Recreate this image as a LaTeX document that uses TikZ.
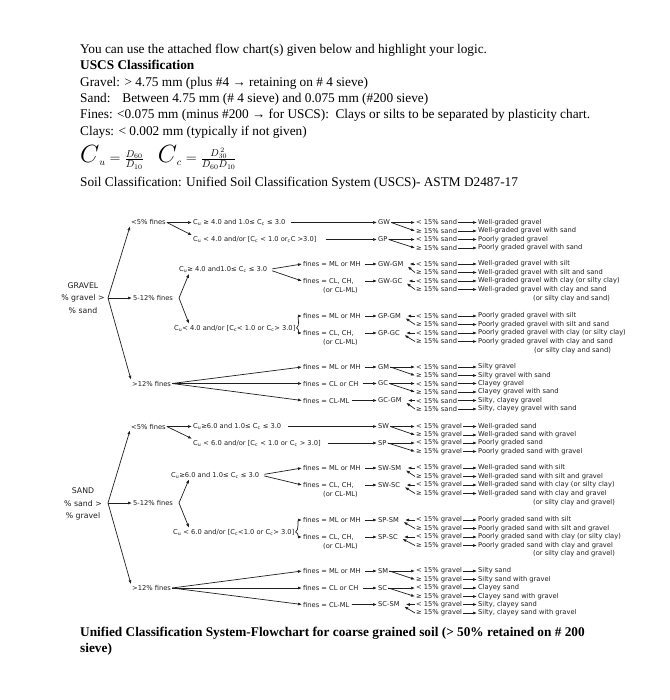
\documentclass[tikz,border=0pt]{standalone}
\usepackage{fontspec}
\setmainfont{Liberation Serif}
\newfontfamily\chartfont{DejaVu Sans}
\usetikzlibrary{arrows.meta}
\definecolor{ink}{gray}{0.12}

\begin{document}
\begin{tikzpicture}[x=1pt,y=-1pt,
  hdr/.style={anchor=base west,inner sep=0pt,font=\fontsize{13.3}{16}\selectfont},
  soil/.style={align=center,inner sep=0pt,text=ink,font=\chartfont\fontsize{7.8}{12.3}\selectfont},
  txt/.style={anchor=west,inner sep=1pt,text=ink,font=\chartfont\fontsize{6.7}{7.5}\selectfont},
  arr/.style={draw=ink,line width=0.7pt,-{Latex[length=4pt,width=3pt]}}]
\path[fill=white] (0,0) rectangle (669,700);

% header
\node[hdr] (l1) at (80,54) {You can use the attached flow chart(s) given below and highlight your logic.};
\node[hdr] (l2) at (80,70) {\bfseries USCS Classification};
\node[hdr] (l3) at (80,87) {Gravel: > 4.75 mm (plus \#4 → retaining on \# 4 sieve)};
\node[hdr] (l4) at (80,103) {Sand:\hspace{0.9em}Between 4.75 mm (\# 4 sieve) and 0.075 mm (\#200 sieve)};
\node[hdr] (l5) at (80,119) {Fines: <0.075 mm (minus \#200 → for USCS):\hspace{0.5em}Clays or silts to be separated by plasticity chart.};
\node[hdr] (l6) at (80,136) {Clays: < 0.002 mm (typically if not given)};
\node[hdr] (cu) at (80,163) {\fontsize{14}{14}\selectfont$\mbox{\fontsize{27}{27}\selectfont$C$}_u=\frac{D_{60}}{D_{10}}\quad\mbox{\fontsize{27}{27}\selectfont$C$}_c=\frac{D^{\,2}_{30}}{D_{60}D_{10}}$};
\node[hdr] (l7) at (80,187) {Soil Classification: Unified Soil Classification System (USCS)- ASTM D2487-17};

% gravel
\node[soil] (gravel) at (83,298) {GRAVEL\\\% gravel >\\\% sand};
\coordinate (gb) at (108,298);
\node[txt] (g5) at (130,222.5) {<5\% fines};
\node[txt] (g512) at (132,298) {5-12\% fines};
\node[txt] (g12) at (131,383.5) {>12\% fines};
\draw[arr] (gb) -- (g5.south west);
\draw[arr] (gb) -- (g512.west);
\draw[arr] (gb) -- (g12.north west);

\node[txt] (g5a) at (192,222.5) {C\textsubscript{u} ≥ 4.0 and 1.0≤ C\textsubscript{c} ≤ 3.0};
\node[txt] (g5b) at (192,239.5) {C\textsubscript{u} < 4.0 and/or [C\textsubscript{c} < 1.0 or\textsubscript{c}C >3.0]};
\draw[arr] (g5.east) -- (g5a.west);
\draw[arr] (g5.east) -- (g5b.north west);
\node[txt] (gw) at (377,222.5) {GW};
\node[txt] (gp) at (377,239.5) {GP};
\draw[arr,shorten <=4pt] (g5a.east) -- (gw.west);
\draw[arr,shorten <=8pt] (g5b.east) -- (gp.west);

\node[txt] (g512a) at (178,269.5) {C\textsubscript{u}≥ 4.0 and1.0≤ C\textsubscript{c} ≤ 3.0};
\node[txt] (g512b) at (173,328) {C\textsubscript{u}< 4.0 and/or [C\textsubscript{c}< 1.0 or C\textsubscript{c}> 3.0]};
\coordinate (gk) at (179,298);
\draw[arr] (gk) -- ([xshift=11pt]g512a.south west);
\draw[arr] (gk) -- ([xshift=16pt]g512b.north west);

\node[txt] (f1) at (302,264) {fines = ML or MH};
\node[txt] (f2) at (302,281) {fines = CL, CH,};
\node[txt] (f2o) at (322,290) {(or CL-ML)};
\draw[arr,shorten <=4pt] (g512a.east) -- (f1.west);
\draw[arr,shorten <=4pt] (g512a.east) -- (f2.west);
\node[txt] (gwgm) at (377,264) {GW-GM};
\node[txt] (gwgc) at (377,281) {GW-GC};
\draw[arr,shorten <=3pt] (f1.east) -- (gwgm.west);
\draw[arr,shorten <=3pt] (f2.east -| f1.east) -- (gwgc.west);

\node[txt] (f3) at (302,316) {fines = ML or MH};
\node[txt] (f4) at (302,333) {fines = CL, CH,};
\node[txt] (f4o) at (322,342) {(or CL-ML)};
\draw[arr] (g512b.east) .. controls +(4,-2) and +(-5,0) .. (f3.west);
\draw[arr] (g512b.east) .. controls +(4,2) and +(-5,0) .. (f4.west);
\node[txt] (gpgm) at (377,316) {GP-GM};
\node[txt] (gpgc) at (377,333) {GP-GC};
\draw[arr,shorten <=3pt] (f3.east) -- (gpgm.west);
\draw[arr,shorten <=3pt] (f4.east -| f3.east) -- (gpgc.west);

\node[txt] (f5) at (302,367) {fines = ML or MH};
\node[txt] (f6) at (302,383.5) {fines = CL or CH};
\node[txt] (f7) at (302,400.5) {fines = CL-ML};
\draw[arr] (g12.east) -- (f5.west);
\draw[arr] (g12.east) -- (f6.west);
\draw[arr] (g12.east) -- (f7.west);
\node[txt] (gm) at (377,367) {GM};
\node[txt] (gc) at (377,383.5) {GC};
\node[txt] (gcgm) at (377,400.5) {GC-GM};
\draw[arr,shorten <=3pt] (f5.east) -- (gm.west);
\draw[arr,shorten <=3pt] (f6.east) -- (gc.west);
\draw[arr,shorten <=1pt] (f7.east) -- (gcgm.west);

% gravel names
\node[txt] (gw1) at (415,222.5) {< 15\% sand};
\node[txt] (gw2) at (415,231) {≥ 15\% sand};
\node[txt] (gwa) at (477,222.5) {Well-graded gravel};
\node[txt] (gwb) at (477,231) {Well-graded gravel with sand};
\draw[arr] (gw.east) -- (gw1.west); \draw[arr] (gw.east) -- (gw2.west);
\draw[arr] (gw1.east) -- (gwa.west); \draw[arr] (gw2.east) -- (gwb.west);

\node[txt] (gp1) at (415,239.5) {< 15\% sand};
\node[txt] (gp2) at (415,248) {≥ 15\% sand};
\node[txt] (gpa) at (477,239.5) {Poorly graded gravel};
\node[txt] (gpb) at (477,248) {Poorly graded gravel with sand};
\draw[arr] (gp.east) -- (gp1.west); \draw[arr] (gp.east) -- (gp2.west);
\draw[arr] (gp1.east) -- (gpa.west); \draw[arr] (gp2.east) -- (gpb.west);

\node[txt] (gwgm1) at (415,264) {< 15\% sand};
\node[txt] (gwgm2) at (415,272.5) {≥ 15\% sand};
\node[txt] (gwgma) at (477,264) {Well-graded gravel with silt};
\node[txt] (gwgmb) at (477,272.5) {Well-graded gravel with silt and sand};
\draw[arr,shorten >=5pt] (gwgm1.west) -- (gwgm.east); \draw[arr,shorten >=4pt] (gwgm2.west) -- (gwgm.east);
\draw[arr] (gwgm1.east) -- (gwgma.west); \draw[arr] (gwgm2.east) -- (gwgmb.west);

\node[txt] (gwgc1) at (415,281) {< 15\% sand};
\node[txt] (gwgc2) at (415,289.5) {≥ 15\% sand};
\node[txt] (gwgca) at (477,281) {Well-graded gravel with clay (or silty clay)};
\node[txt] (gwgcb) at (477,289.5) {Well-graded gravel with clay and sand};
\node[txt] (gwgcc) at (532,298.5) {(or silty clay and sand)};
\draw[arr,shorten >=5pt] (gwgc1.west) -- (gwgc.east); \draw[arr,shorten >=4pt] (gwgc2.west) -- (gwgc.east);
\draw[arr] (gwgc1.east) -- (gwgca.west); \draw[arr] (gwgc2.east) -- (gwgcb.west);

\node[txt] (gpgm1) at (415,316) {< 15\% sand};
\node[txt] (gpgm2) at (415,324.5) {≥ 15\% sand};
\node[txt] (gpgma) at (477,316) {Poorly graded gravel with silt};
\node[txt] (gpgmb) at (477,324.5) {Poorly graded gravel with silt and sand};
\draw[arr,shorten >=5pt] (gpgm1.west) -- (gpgm.east); \draw[arr,shorten >=4pt] (gpgm2.west) -- (gpgm.east);
\draw[arr] (gpgm1.east) -- (gpgma.west); \draw[arr] (gpgm2.east) -- (gpgmb.west);

\node[txt] (gpgc1) at (415,333) {< 15\% sand};
\node[txt] (gpgc2) at (415,341.5) {≥ 15\% sand};
\node[txt] (gpgca) at (477,333) {Poorly graded gravel with clay (or silty clay)};
\node[txt] (gpgcb) at (477,341.5) {Poorly graded gravel with clay and sand};
\node[txt] (gpgcc) at (533,350.5) {(or silty clay and sand)};
\draw[arr,shorten >=5pt] (gpgc1.west) -- (gpgc.east); \draw[arr,shorten >=4pt] (gpgc2.west) -- (gpgc.east);
\draw[arr] (gpgc1.east) -- (gpgca.west); \draw[arr] (gpgc2.east) -- (gpgcb.west);

\node[txt] (gm1) at (415,367) {< 15\% sand};
\node[txt] (gm2) at (415,375.5) {≥ 15\% sand};
\node[txt] (gma) at (477,367) {Silty gravel};
\node[txt] (gmb) at (477,375.5) {Silty gravel with sand};
\draw[arr] (gm.east) -- (gm1.west); \draw[arr] (gm.east) -- (gm2.west);
\draw[arr] (gm1.east) -- (gma.west); \draw[arr] (gm2.east) -- (gmb.west);

\node[txt] (gc1) at (415,383.5) {< 15\% sand};
\node[txt] (gc2) at (415,392) {≥ 15\% sand};
\node[txt] (gca) at (477,383.5) {Clayey gravel};
\node[txt] (gcb) at (477,392) {Clayey gravel with sand};
\draw[arr] (gc.east) -- (gc1.west); \draw[arr] (gc.east) -- (gc2.west);
\draw[arr] (gc1.east) -- (gca.west); \draw[arr] (gc2.east) -- (gcb.west);

\node[txt] (gcgm1) at (415,400.5) {< 15\% sand};
\node[txt] (gcgm2) at (415,409) {≥ 15\% sand};
\node[txt] (gcgma) at (477,400.5) {Silty, clayey gravel};
\node[txt] (gcgmb) at (477,409) {Silty, clayey gravel with sand};
\draw[arr,shorten >=5pt] (gcgm1.west) -- (gcgm.east); \draw[arr,shorten >=4pt] (gcgm2.west) -- (gcgm.east);
\draw[arr] (gcgm1.east) -- (gcgma.west); \draw[arr] (gcgm2.east) -- (gcgmb.west);

% sand
\node[soil] (sand) at (83,504) {SAND\\\% sand >\\\% gravel};
\coordinate (sb) at (108,503);
\node[txt] (s5) at (130,426.5) {<5\% fines};
\node[txt] (s512) at (132,503) {5-12\% fines};
\node[txt] (s12) at (131,588) {>12\% fines};
\draw[arr] (sb) -- (s5.south west);
\draw[arr] (sb) -- (s512.west);
\draw[arr] (sb) -- (s12.north west);

\node[txt] (s5a) at (192,426.5) {C\textsubscript{u}≥6.0 and 1.0≤ C\textsubscript{c} ≤ 3.0};
\node[txt] (s5b) at (192,443) {C\textsubscript{u} < 6.0 and/or [C\textsubscript{c} < 1.0 or C\textsubscript{c} > 3.0]};
\draw[arr] (s5.east) -- (s5a.west);
\draw[arr] (s5.east) -- (s5b.north west);
\node[txt] (sw) at (377,426.5) {SW};
\node[txt] (sp) at (377,443) {SP};
\draw[arr,shorten <=6pt] (s5a.east) -- (sw.west);
\draw[arr,shorten <=6pt] (s5b.east) -- (sp.west);

\node[txt] (s512a) at (170,475) {C\textsubscript{u}≥6.0 and 1.0≤ C\textsubscript{c} ≤ 3.0};
\node[txt] (s512b) at (172,532) {C\textsubscript{u} < 6.0 and/or [C\textsubscript{c}<1.0 or C\textsubscript{c}> 3.0]};
\coordinate (sk) at (179,503);
\draw[arr] (sk) -- ([xshift=19pt]s512a.south west);
\draw[arr] (sk) -- ([xshift=17pt]s512b.north west);

\node[txt] (f8) at (302,468) {fines = ML or MH};
\node[txt] (f9) at (302,485) {fines = CL, CH,};
\node[txt] (f9o) at (322,494) {(or CL-ML)};
\draw[arr,shorten <=4pt] (s512a.east) -- (f8.west);
\draw[arr,shorten <=4pt] (s512a.east) -- (f9.west);
\node[txt] (swsm) at (377,468) {SW-SM};
\node[txt] (swsc) at (377,485) {SW-SC};
\draw[arr,shorten <=3pt] (f8.east) -- (swsm.west);
\draw[arr,shorten <=3pt] (f9.east -| f8.east) -- (swsc.west);

\node[txt] (f10) at (302,520) {fines = ML or MH};
\node[txt] (f11) at (302,537) {fines = CL, CH,};
\node[txt] (f11o) at (322,546) {(or CL-ML)};
\draw[arr] (s512b.east) .. controls +(4,-2) and +(-5,0) .. (f10.west);
\draw[arr] (s512b.east) .. controls +(4,2) and +(-5,0) .. (f11.west);
\node[txt] (spsm) at (377,520) {SP-SM};
\node[txt] (spsc) at (377,537) {SP-SC};
\draw[arr,shorten <=3pt] (f10.east) -- (spsm.west);
\draw[arr,shorten <=3pt] (f11.east -| f10.east) -- (spsc.west);

\node[txt] (f12) at (302,571) {fines = ML or MH};
\node[txt] (f13) at (302,588) {fines = CL or CH};
\node[txt] (f14) at (302,604.5) {fines = CL-ML};
\draw[arr] (s12.east) -- (f12.west);
\draw[arr] (s12.east) -- (f13.west);
\draw[arr] (s12.east) -- (f14.west);
\node[txt] (sm) at (377,571) {SM};
\node[txt] (sc) at (377,588) {SC};
\node[txt] (scsm) at (377,604.5) {SC-SM};
\draw[arr,shorten <=3pt] (f12.east) -- (sm.west);
\draw[arr,shorten <=3pt] (f13.east) -- (sc.west);
\draw[arr,shorten <=1pt] (f14.east) -- (scsm.west);

% sand names
\node[txt] (sw1) at (415,426.5) {< 15\% gravel};
\node[txt] (sw2) at (415,435) {≥ 15\% gravel};
\node[txt] (swa) at (477,426.5) {Well-graded sand};
\node[txt] (swb) at (477,435) {Well-graded sand with gravel};
\draw[arr] (sw.east) -- (sw1.west); \draw[arr] (sw.east) -- (sw2.west);
\draw[arr] (sw1.east) -- (swa.west); \draw[arr] (sw2.east) -- (swb.west);

\node[txt] (sp1) at (415,443) {< 15\% gravel};
\node[txt] (sp2) at (415,451.5) {≥ 15\% gravel};
\node[txt] (spa) at (477,443) {Poorly graded sand};
\node[txt] (spb) at (477,451.5) {Poorly graded sand with gravel};
\draw[arr] (sp.east) -- (sp1.west); \draw[arr] (sp.east) -- (sp2.west);
\draw[arr] (sp1.east) -- (spa.west); \draw[arr] (sp2.east) -- (spb.west);

\node[txt] (swsm1) at (415,468) {< 15\% gravel};
\node[txt] (swsm2) at (415,476.5) {≥ 15\% gravel};
\node[txt] (swsma) at (477,468) {Well-graded sand with silt};
\node[txt] (swsmb) at (477,476.5) {Well-graded sand with silt and gravel};
\draw[arr,shorten >=5pt] (swsm1.west) -- (swsm.east); \draw[arr,shorten >=4pt] (swsm2.west) -- (swsm.east);
\draw[arr] (swsm1.east) -- (swsma.west); \draw[arr] (swsm2.east) -- (swsmb.west);

\node[txt] (swsc1) at (415,485) {< 15\% gravel};
\node[txt] (swsc2) at (415,493.5) {≥ 15\% gravel};
\node[txt] (swsca) at (477,485) {Well-graded sand with clay (or silty clay)};
\node[txt] (swscb) at (477,493.5) {Well-graded sand with clay and gravel};
\node[txt] (swscc) at (532,502.5) {(or silty clay and gravel)};
\draw[arr,shorten >=5pt] (swsc1.west) -- (swsc.east); \draw[arr,shorten >=4pt] (swsc2.west) -- (swsc.east);
\draw[arr] (swsc1.east) -- (swsca.west); \draw[arr] (swsc2.east) -- (swscb.west);

\node[txt] (spsm1) at (415,520) {< 15\% gravel};
\node[txt] (spsm2) at (415,528.5) {≥ 15\% gravel};
\node[txt] (spsma) at (477,520) {Poorly graded sand with silt};
\node[txt] (spsmb) at (477,528.5) {Poorly graded sand with silt and gravel};
\draw[arr,shorten >=5pt] (spsm1.west) -- (spsm.east); \draw[arr,shorten >=4pt] (spsm2.west) -- (spsm.east);
\draw[arr] (spsm1.east) -- (spsma.west); \draw[arr] (spsm2.east) -- (spsmb.west);

\node[txt] (spsc1) at (415,537) {< 15\% gravel};
\node[txt] (spsc2) at (415,545.5) {≥ 15\% gravel};
\node[txt] (spsca) at (477,537) {Poorly graded sand with clay (or silty clay)};
\node[txt] (spscb) at (477,545.5) {Poorly graded sand with clay and gravel};
\node[txt] (spscc) at (532,554) {(or silty clay and gravel)};
\draw[arr,shorten >=5pt] (spsc1.west) -- (spsc.east); \draw[arr,shorten >=4pt] (spsc2.west) -- (spsc.east);
\draw[arr] (spsc1.east) -- (spsca.west); \draw[arr] (spsc2.east) -- (spscb.west);

\node[txt] (sm1) at (415,571) {< 15\% gravel};
\node[txt] (sm2) at (415,579.5) {≥ 15\% gravel};
\node[txt] (sma) at (477,571) {Silty sand};
\node[txt] (smb) at (477,579.5) {Silty sand with gravel};
\draw[arr] (sm.east) -- (sm1.west); \draw[arr] (sm.east) -- (sm2.west);
\draw[arr] (sm1.east) -- (sma.west); \draw[arr] (sm2.east) -- (smb.west);

\node[txt] (sc1) at (415,588) {< 15\% gravel};
\node[txt] (sc2) at (415,596.5) {≥ 15\% gravel};
\node[txt] (sca) at (477,588) {Clayey sand};
\node[txt] (scb) at (477,596.5) {Clayey sand with gravel};
\draw[arr] (sc.east) -- (sc1.west); \draw[arr] (sc.east) -- (sc2.west);
\draw[arr] (sc1.east) -- (sca.west); \draw[arr] (sc2.east) -- (scb.west);

\node[txt] (scsm1) at (415,604.5) {< 15\% gravel};
\node[txt] (scsm2) at (415,613) {≥ 15\% gravel};
\node[txt] (scsma) at (477,604.5) {Silty, clayey sand};
\node[txt] (scsmb) at (477,613) {Silty, clayey sand with gravel};
\draw[arr,shorten >=5pt] (scsm1.west) -- (scsm.east); \draw[arr,shorten >=4pt] (scsm2.west) -- (scsm.east);
\draw[arr] (scsm1.east) -- (scsma.west); \draw[arr] (scsm2.east) -- (scsmb.west);

% caption
\node[hdr] (cap1) at (80,636) {\bfseries Unified Classification System-Flowchart for coarse grained soil (> 50\% retained on \# 200};
\node[hdr] (cap2) at (80,652) {\bfseries sieve)};
\end{tikzpicture}
\end{document}
